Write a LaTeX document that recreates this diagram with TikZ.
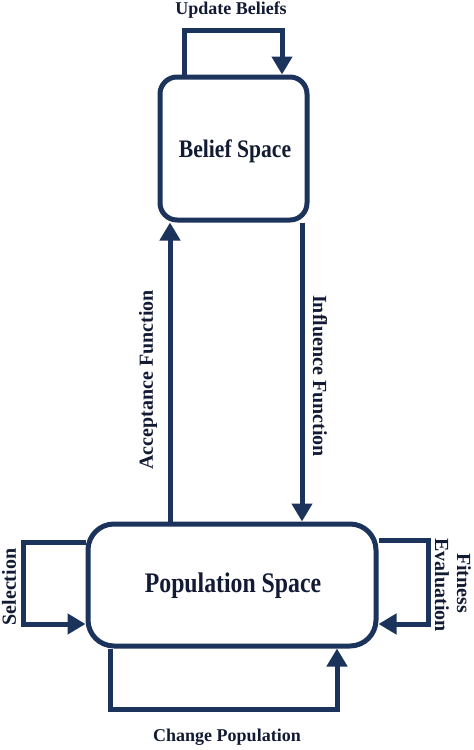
\documentclass[tikz,border=0pt]{standalone}
\usepackage{fontspec}
\setmainfont{Liberation Serif}
\usetikzlibrary{arrows.meta}
\definecolor{navy}{RGB}{28,52,92}
\definecolor{inkc}{RGB}{18,26,52}
\begin{document}
\begin{tikzpicture}[x=1pt,y=-1pt,
  boxst/.style={draw=navy, line width=5pt, rounded corners=#1, inner sep=0pt, fill=white},
  conn/.style={draw=navy, line width=5pt},
  arr/.style={conn, -{Triangle[length=18pt,width=20pt]}},
  lbl/.style={text=inkc, font=\bfseries\fontsize{20}{22}\selectfont, inner sep=0pt},
  lbls/.style={text=inkc, font=\bfseries\fontsize{18}{20}\selectfont, inner sep=0pt},
  title/.style={text=inkc, inner sep=0pt}
]
\useasboundingbox (0,0) rectangle (474,750);
% boxes
\node[boxst=17, minimum width=147pt, minimum height=143pt] (belief) at (233.5,148.5) {};
\node[boxst=26, minimum width=288pt, minimum height=122pt] (pop) at (232,585) {};
\node[title] (bt) at (235,151) {\scalebox{0.9}[1.05]{\bfseries\fontsize{24}{26}\selectfont Belief Space}};
\node[title] (pt) at (233,586) {\scalebox{0.88}[1.05]{\bfseries\fontsize{27}{30}\selectfont Population Space}};
% helper coordinates
\coordinate (ul) at (184,30);
\coordinate (ur) at (282,30);
\coordinate (acc) at (170,380);
\coordinate (inf) at (302,380);
\coordinate (st) at (23,542);
\coordinate (sb) at (23,624);
\coordinate (ft) at (428,540);
\coordinate (fb) at (428,624);
\coordinate (cl) at (110,709);
\coordinate (cr) at (337,709);
% connectors
\draw[arr] (belief.north -| ul) -- (ul) -- (ur) -- (belief.north -| ur);
\draw[arr] (pop.north -| acc) -- (belief.south -| acc);
\draw[arr] (belief.south -| inf) -- (pop.north -| inf);
\draw[arr] (pop.west |- st) -- (st) -- (sb) -- (pop.west |- sb);
\draw[arr] (pop.east |- ft) -- (ft) -- (fb) -- (pop.east |- fb);
\draw[arr] (pop.south -| cl) -- (cl) -- (cr) -- (pop.south -| cr);
% labels
\node[lbls] (lub) at (231,10) {Update Beliefs};
\node[lbl, rotate=90] (lacc) at (148,380) {Acceptance Function};
\node[lbl, rotate=-90] (linf) at (320,376) {Influence Function};
\node[lbl, rotate=90] (lsel) at (9,587) {Selection};
\node[lbl, rotate=-90] (lfit) at (464,583) {Fitness};
\node[lbl, rotate=-90] (lev) at (442,585) {Evaluation};
\node[lbls] (lcp) at (227,737) {Change Population};
\end{tikzpicture}
\end{document}
